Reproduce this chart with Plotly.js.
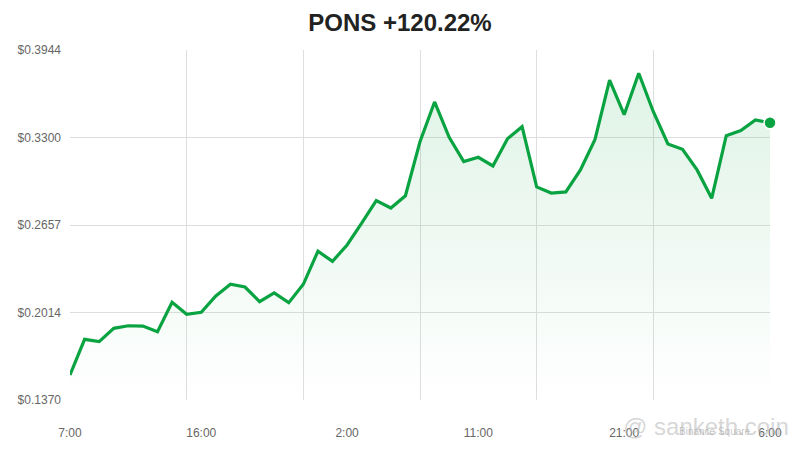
<!DOCTYPE html>
<html>
<head>
<meta charset="utf-8">
<script src="https://cdn.plot.ly/plotly-3.0.1.min.js"></script>
<style>html,body{margin:0;padding:0;background:#fff;}#chart{width:800px;height:450px;}</style>
</head>
<body>
<div id="chart"></div>
<script>
var prices = [0.1554,0.1816,0.1799,0.1897,0.1916,0.1914,0.1872,0.2089,0.2000,0.2015,
  0.2135,0.2221,0.2201,0.2093,0.2157,0.2086,0.2221,0.2464,0.2390,0.2510,
  0.2670,0.2836,0.2782,0.2872,0.3270,0.3562,0.3302,0.3123,0.3155,0.3091,
  0.3292,0.3380,0.2937,0.2892,0.2900,0.3062,0.3287,0.3723,0.3468,0.3773,
  0.3490,0.3253,0.3214,0.3062,0.2853,0.3314,0.3351,0.3429,0.3409];
var xIndex = prices.map(function(_, i){ return i; });
var tickPositions = [0, 9, 19, 28, 38, 48];
var tickLabels = ["7:00", "16:00", "2:00", "11:00", "21:00", "6:00"];
var yTicks = [0.1370, 0.2014, 0.2657, 0.3300, 0.3944];
var yLabels = ["$0.1370", "$0.2014", "$0.2657", "$0.3300", "$0.3944"];
var titleText = "PONS +120.22%";
var green = "#0aa341";

var lastX = xIndex[xIndex.length - 1];
var lastY = prices[prices.length - 1];

var traces = [
  {
    x: xIndex, y: prices, type: "scatter", mode: "lines",
    line: {color: green, width: 3.2},
    fill: "tozeroy",
    fillgradient: {type: "vertical", start: 0.1370, stop: 0.3944,
      colorscale: [[0, "rgba(10,163,65,0.0)"], [1, "rgba(10,163,65,0.14)"]]},
    hoverinfo: "skip"
  },
  {
    x: [lastX], y: [lastY], type: "scatter", mode: "markers",
    marker: {color: green, size: 12, line: {color: "#fff", width: 1.5}},
    cliponaxis: false, hoverinfo: "skip"
  }
];

var layout = {
  width: 800, height: 450,
  margin: {l: 70, r: 30, t: 50, b: 50},
  paper_bgcolor: "#fff", plot_bgcolor: "#fff",
  showlegend: false,
  font: {family: "Liberation Sans, Arial, sans-serif", color: "#666", size: 12},
  title: {text: "<b>" + titleText + "</b>", x: 0.5, xanchor: "center", y: 0.95, yanchor: "middle",
    font: {size: 24, color: "#222", family: "Liberation Sans, Arial, sans-serif"}},
  xaxis: {
    range: [0, 48], tickmode: "array", tickvals: tickPositions, ticktext: tickLabels,
    showgrid: false, zeroline: false, showline: false, ticks: "",
    ticklabelstandoff: 24, tickfont: {size: 12, color: "#666"},
    minor: {tickmode: "linear", tick0: 0, dtick: 8, showgrid: true, gridcolor: "#dedede", gridwidth: 1}
  },
  yaxis: {
    range: [0.1370, 0.3944], tickmode: "array", tickvals: yTicks, ticktext: yLabels,
    showgrid: true, gridcolor: "#dedede", zeroline: false, showline: false, ticks: "",
    ticklabelstandoff: 8, tickfont: {size: 12, color: "#666"}
  },
  annotations: [
    {xref: "paper", yref: "paper", x: 1.03, y: -0.075, xanchor: "right", yanchor: "middle",
     text: "@ sanketh.coin", showarrow: false, font: {size: 24, color: "rgba(180,180,180,0.55)"}},
    {xref: "paper", yref: "paper", x: 0.975, y: -0.09, xanchor: "right", yanchor: "middle",
     text: "Binance Square", showarrow: false, font: {size: 10, color: "rgba(160,160,160,0.6)"}}
  ]
};

Plotly.newPlot("chart", traces, layout, {displayModeBar: false, staticPlot: true});
</script>
</body>
</html>
